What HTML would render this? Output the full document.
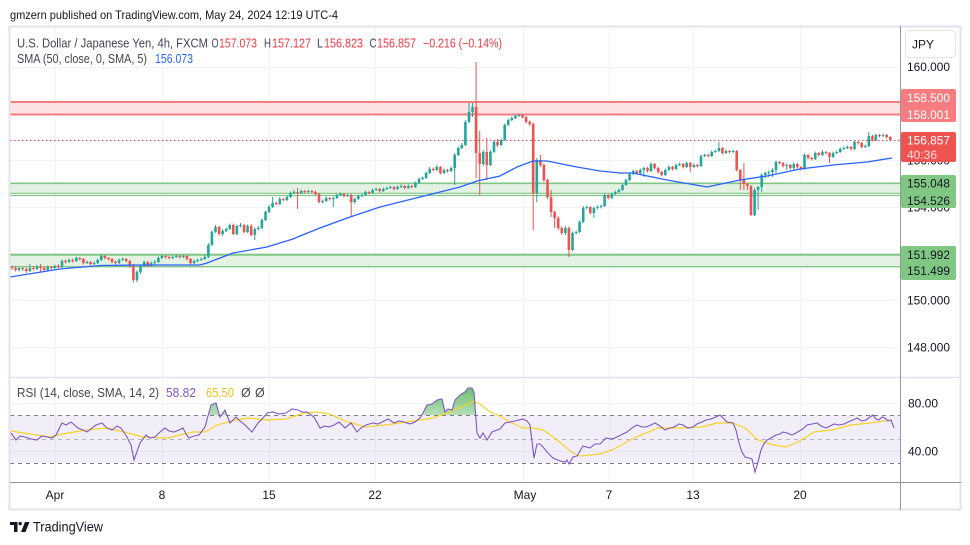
<!DOCTYPE html>
<html><head><meta charset="utf-8"><style>
html,body{margin:0;padding:0;background:#fff;}
svg{display:block;font-family:"Liberation Sans",sans-serif;}
</style></head><body>
<svg width="970" height="545" viewBox="0 0 970 545" xmlns="http://www.w3.org/2000/svg">
<defs>
<clipPath id="cp"><rect x="10" y="27" width="890" height="350"/></clipPath>
<clipPath id="rsiTop"><rect x="10" y="378" width="890" height="37"/></clipPath>
<linearGradient id="gg" x1="0" y1="0" x2="0" y2="1"><stop offset="0" stop-color="#4caf50" stop-opacity="0.8"/><stop offset="1" stop-color="#4caf50" stop-opacity="0.05"/></linearGradient>
</defs>
<rect width="970" height="545" fill="#fff"/>
<text x="10" y="19" font-size="12" fill="#131722" textLength="328" lengthAdjust="spacingAndGlyphs">gmzern published on TradingView.com, May 24, 2024 12:19 UTC-4</text>

<!-- grid -->
<g stroke="#f0f3fa" stroke-width="1">
<path d="M55.5 27V482M162.5 27V482M269.5 27V482M375.5 27V482M523.5 27V482M609.5 27V482M693.5 27V482M800.5 27V482"/>
<path d="M10 67.5H900M10 113.5H900M10 160.5H900M10 207.5H900M10 253.5H900M10 300.5H900M10 347.5H900"/>
<path d="M10 403.5H900M10 451.5H900"/>
</g>

<!-- boxes -->
<g clip-path="url(#cp)">
<rect x="10" y="102" width="890" height="12.5" fill="#fde2e3"/>
<path d="M10 102H900M10 114.5H900" stroke="#f77c80" stroke-width="2"/>
<rect x="10" y="183.3" width="890" height="10" fill="#e4f2e4"/>
<path d="M10 183.3H900" stroke="#81c784" stroke-width="1.6"/>
<path d="M10 193.3H900M10 195.5H900" stroke="#81c784" stroke-width="1.2"/>
<rect x="10" y="254.7" width="890" height="12" fill="#e4f2e4"/>
<path d="M10 254.7H900" stroke="#81c784" stroke-width="2"/>
<path d="M10 266.7H900" stroke="#81c784" stroke-width="1.4"/>
<path d="M10 140.5H900" stroke="#f23645" stroke-width="1" stroke-dasharray="1.5 2.5"/>

<!-- candles -->
<path fill="none" stroke="#26a69a" stroke-width="1" d="M19.1 266.5V271.5M29.9 264V272M37 265V270.5M47.7 265.5V271M54.8 264.5V269M62 259.5V268M69.1 258.5V263M76.3 256.5V262M87 260.5V264M94.1 261.5V265M97.7 258.5V264M101.3 254.5V261M119.1 258.5V264M122.7 257.5V261M137 270V282M140.5 264.5V274M144.1 260.5V267M151.2 261.5V267M154.8 260V264.5M158.4 256.5V263M161.9 254.5V259M172.7 255.5V259M176.2 254.5V258M183.4 254.5V258M194.1 259.5V264M197.6 258.5V262M201.2 257.5V261M204.8 255V260M208.4 243V258M211.9 230V246M215.5 225V233M222.6 229V236M226.2 227.5V232M229.8 223.5V230M236.9 224.5V235M240.5 223V227.5M247.6 224.5V233M254.8 227.5V240M258.3 226V230.5M261.9 218.5V229M265.5 210.5V221M269 205V213M272.6 197V208M279.8 197V205M286.9 195.5V201M290.5 191.5V198M294 190V194M301.2 189.5V194M308.3 189.5V193M322.6 199.5V203.5M326.2 196.5V202M333.3 196.5V207M336.9 193.5V199M340.4 192.5V196M347.6 193.5V197M354.7 197.5V204M358.3 194.5V200M361.9 193.5V197M365.4 190.5V196M372.6 188.5V194M376.1 187.5V191M383.3 187.5V192M386.9 186.5V190M390.4 185.5V189M397.6 185.5V190M401.1 184.5V188M408.3 184.5V189M415.4 181.5V188M419 177.5V184M422.6 176.5V180M426.1 171.5V179M429.7 167V174M436.8 165V171M444 168.5V174M451.1 166.5V172M454.7 153V185M458.3 146.5V156M461.8 143V149M465.4 120V146M469 103V123M472.5 103V117M483.2 150V166M490.4 150V166M494 140V153M501.1 138.5V146M504.7 123.5V141M508.2 118.5V126M511.8 116.5V121M515.4 114.5V119M518.9 113.5V117M536.8 158V202M565.4 226V235M572.5 231.5V251M576.1 230.5V234.5M579.6 220.5V233M583.2 206V223M586.8 205.5V209.5M593.9 206.5V218M597.5 205.5V209.5M601.1 204.5V208.5M604.6 193.5V207M611.8 192.5V199M615.3 190.5V195M618.9 188.5V193M622.5 183.5V191M626 178.5V186M629.6 172.5V181M633.2 169.5V175M640.3 168.5V174M643.9 166.5V177M651 162.5V172M665.3 168.5V176M668.9 165.5V171M676 163.5V170M679.6 162.5V166M686.7 161.5V168M693.9 163.5V168M701 154.5V167M704.6 153.5V157M711.7 150.5V157M715.3 149.5V153M718.9 142V152M726 149.5V154M733.1 149.5V153M754.6 188V216M758.1 186V210M761.7 173.5V192M765.3 171.5V178M768.8 170.5V177M772.4 168V177M776 160.5V173M786.7 163.5V170M793.8 162.5V170M804.5 153.5V170M815.3 151.5V160M822.4 150V156M833.1 151.5V158M836.7 150.5V154M840.2 147.5V153M843.8 146.5V150M847.4 145.5V149M854.5 140.5V150M865.2 144.5V148M868.8 132V147M875.9 133.5V141M883.1 133.5V137"/>
<path fill="none" stroke="#26a69a" stroke-width="2.6" d="M19.1 268V270M29.9 268V271M37 267V269M47.7 267V270M54.8 266V268M62 261V267M69.1 260V262M76.3 258V261M87 262V263M94.1 263V264M97.7 260V263M101.3 256V260M119.1 260V263M122.7 259V260M137 272V280M140.5 266V272M144.1 262V266M151.2 263V266M154.8 262V263M158.4 258V262M161.9 256V258M172.7 257V258M176.2 256V257M183.4 256V257M194.1 261V263M197.6 260V261M201.2 259V260M204.8 257V259M208.4 245V257M211.9 232V245M215.5 227V232M222.6 231V234M226.2 229V231M229.8 225V229M236.9 226V234M240.5 225V226M247.6 226V232M254.8 229V235M258.3 228V229M261.9 220V228M265.5 212V220M269 207V212M272.6 203V207M279.8 199V204M286.9 197V200M290.5 193V197M294 192V193M301.2 191V193M308.3 191V192M322.6 201V202M326.2 198V201M333.3 198V199M336.9 195V198M340.4 194V195M347.6 195V196M354.7 199V202M358.3 196V199M361.9 195V196M365.4 192V195M372.6 190V193M376.1 189V190M383.3 189V191M386.9 188V189M390.4 187V188M397.6 187V189M401.1 186V187M408.3 186V188M415.4 183V187M419 179V183M422.6 178V179M426.1 173V178M429.7 169V173M436.8 167V170M444 170V173M451.1 168V171M454.7 155V168M458.3 148V155M461.8 145V148M465.4 122V145M469 112V122M472.5 107V112M483.2 152V164M490.4 152V165M494 142V152M501.1 140V145M504.7 125V140M508.2 120V125M511.8 118V120M515.4 116V118M518.9 115V116M536.8 160V193M565.4 228V233M572.5 233V250M576.1 232V233M579.6 222V232M583.2 208V222M586.8 207V208M593.9 208V213M597.5 207V208M601.1 206V207M604.6 195V206M611.8 194V198M615.3 192V194M618.9 190V192M622.5 185V190M626 180V185M629.6 174V180M633.2 171V174M640.3 170V173M643.9 168V170M651 164V171M665.3 170V175M668.9 167V170M676 165V169M679.6 164V165M686.7 163V167M693.9 165V167M701 156V166M704.6 155V156M711.7 152V156M715.3 151V152M718.9 148V151M726 151V153M733.1 151V152M754.6 190V215M758.1 187V190M761.7 175V187M765.3 173V175M768.8 172V173M772.4 170V172M776 162V170M786.7 165V166M793.8 164V168M804.5 155V169M815.3 153V159M822.4 152V155M833.1 153V157M836.7 152V153M840.2 149V152M843.8 148V149M847.4 147V148M854.5 142V149M865.2 146V147M868.8 136V146M875.9 135V140M883.1 135V136"/>
<path fill="none" stroke="#ef5350" stroke-width="1" d="M12 265.5V270M15.6 266V271.5M22.7 267V271M26.3 267.5V273M33.4 266V270.5M40.6 264V272M44.1 266.5V272M51.3 266V270M58.4 264V268.5M65.6 259.5V263.5M72.7 258.5V262.5M79.8 257V260.5M83.4 258V264.5M90.5 261V265.5M104.8 255V259.5M108.4 257V260.5M112 258V263.5M115.5 260.5V264.5M126.2 258V262.5M129.8 260V268M133.4 264V282.5M147.7 261V267.5M165.5 255V258.5M169.1 256V259.5M179.8 255V258.5M186.9 255V260.5M190.5 258V264.5M219.1 226V235.5M233.3 223.5V235M244.1 224V233.5M251.2 224V236.5M276.2 201.5V205.5M283.3 198V201.5M297.6 188V209M304.7 190V193.5M311.9 190V193.5M315.5 190.5V195.5M319 193V203.5M329.7 197V200.5M344 193V197.5M351.2 193.5V217M369 191V194.5M379.7 188V192.5M394 186V190.5M404.7 185V189.5M411.8 185V188.5M433.3 167.5V171.5M440.4 166V174.5M447.5 169V172.5M476.1 62V178M479.7 131V195M486.8 138V180M497.5 139V147M522.5 114V118.5M526.1 116V123.5M529.7 120.5V126M533.2 122.5V230M540.4 155V167M543.9 163.5V182M547.5 178.5V199M551.1 190V217M554.6 210.5V228M558.2 216V230M561.8 226.5V235M568.9 226.5V257M590.3 206V214.5M608.2 194V199.5M636.8 170V174.5M647.5 167V172.5M654.6 163V169.5M658.2 167V173.5M661.7 171V176.5M672.5 166V170.5M683.2 163V168.5M690.3 162V172M697.4 164V167.5M708.2 153.5V157.5M722.4 147V154.5M729.6 150V153.5M736.7 150V171.5M740.3 169V190M743.9 163V190M747.4 183V190M751 185V216M779.6 161V164.5M783.1 162V167.5M790.3 164V169.5M797.4 163V168.5M801 166V170.5M808.1 154V159.5M811.7 157V160.5M818.8 152V156.5M826 151V154.5M829.5 152V163M851 146V150.5M858.1 141V144.5M861.7 142V148.5M872.4 135V141.5M879.5 134V137.5M886.7 134V138.5M890.2 136V141"/>
<path fill="none" stroke="#ef5350" stroke-width="2.6" d="M12 267V268M15.6 268V270M22.7 268V269M26.3 269V271M33.4 268V269M40.6 267V268M44.1 268V270M51.3 267V268M58.4 266V267M65.6 261V262M72.7 260V261M79.8 258V259M83.4 259V263M90.5 262V264M104.8 256V258M108.4 258V259M112 259V262M115.5 262V263M126.2 259V261M129.8 261V266M133.4 266V280M147.7 262V266M165.5 256V257M169.1 257V258M179.8 256V257M186.9 256V259M190.5 259V263M219.1 227V234M233.3 225V234M244.1 225V232M251.2 226V235M276.2 203V204M283.3 199V200M297.6 192V193M304.7 191V192M311.9 191V192M315.5 192V194M319 194V202M329.7 198V199M344 194V196M351.2 195V202M369 192V193M379.7 189V191M394 187V189M404.7 186V188M411.8 186V187M433.3 169V170M440.4 167V173M447.5 170V171M476.1 107V153M479.7 153V164M486.8 152V165M497.5 142V145M522.5 115V117M526.1 117V122M529.7 122V124M533.2 124V193M540.4 160V165M543.9 165V180M547.5 180V197M551.1 197V212M554.6 212V218M558.2 218V228M561.8 228V233M568.9 228V250M590.3 207V213M608.2 195V198M636.8 171V173M647.5 168V171M654.6 164V168M658.2 168V172M661.7 172V175M672.5 167V169M683.2 164V167M690.3 163V167M697.4 165V166M708.2 155V156M722.4 148V153M729.6 151V152M736.7 151V170M740.3 170V180M743.9 180V184M747.4 184V186M751 186V215M779.6 162V163M783.1 163V166M790.3 165V168M797.4 164V167M801 167V169M808.1 155V158M811.7 158V159M818.8 153V155M826 152V153M829.5 153V157M851 147V149M858.1 142V143M861.7 143V147M872.4 136V140M879.5 135V136M886.7 135V137M890.2 137V140"/>

<!-- SMA -->
<polyline fill="none" stroke="#2962ff" stroke-width="1.3" points="10,277 35,273 60,269 100,265.5 143,265 200,265 207,263 233,253 267,247 293,239 300,236 320,228 350,217 380,207 420,197 460,187 477,181 500,176 517,167 533,161 547,161 577,167 600,171 620,173 633,173 667,180 707,187 740,180 767,176 800,169 833,165 867,162 892,158"/>
</g>

<!-- legend -->
<g font-size="12.5">
<text x="17" y="47.5" fill="#434651" textLength="191" lengthAdjust="spacingAndGlyphs">U.S. Dollar / Japanese Yen, 4h, FXCM</text>
<text x="211.5" y="47.5" fill="#434651" textLength="7" lengthAdjust="spacingAndGlyphs">O</text><text x="219" y="47.5" fill="#f23645" textLength="38" lengthAdjust="spacingAndGlyphs">157.073</text>
<text x="264" y="47.5" fill="#434651" textLength="7" lengthAdjust="spacingAndGlyphs">H</text><text x="272" y="47.5" fill="#f23645" textLength="39" lengthAdjust="spacingAndGlyphs">157.127</text>
<text x="317" y="47.5" fill="#434651" textLength="6" lengthAdjust="spacingAndGlyphs">L</text><text x="324" y="47.5" fill="#f23645" textLength="39" lengthAdjust="spacingAndGlyphs">156.823</text>
<text x="369.5" y="47.5" fill="#434651" textLength="7" lengthAdjust="spacingAndGlyphs">C</text><text x="377" y="47.5" fill="#f23645" textLength="39" lengthAdjust="spacingAndGlyphs">156.857</text>
<text x="423" y="47.5" fill="#f23645" textLength="79" lengthAdjust="spacingAndGlyphs">−0.216 (−0.14%)</text>
<text x="17" y="63" fill="#434651" textLength="130" lengthAdjust="spacingAndGlyphs">SMA (50, close, 0, SMA, 5)</text>
<text x="155" y="63" fill="#2962ff" textLength="38" lengthAdjust="spacingAndGlyphs">156.073</text>
</g>

<!-- RSI pane -->
<rect x="10" y="415" width="890" height="48" fill="#7e57c2" fill-opacity="0.1"/>
<path d="M10 415.5H900M10 463.5H900" stroke="#787b86" stroke-width="1" stroke-dasharray="4 4"/>
<path d="M10 439.5H900" stroke="#787b86" stroke-opacity="0.5" stroke-width="1" stroke-dasharray="4 4"/>
<path clip-path="url(#rsiTop)" fill="url(#gg)" d="M205 427 L211 405 L216 403 L220 417 L225 410 L230 423 L236 417 L236 440 L205 440 Z M410 424 L415 422 L420 418 L424 411 L427 405 L432 404 L437 400 L442 399 L445 412 L448 409 L452 410 L455 400 L460 395 L465 392 L468 388 L472 388 L474 392 L477 433 L410 433 Z"/>
<polyline fill="none" stroke="#f5d328" stroke-width="1.2" points="11,431 37,435 50,437 68,433 87,430 106,428 124,432 143,437 168,438 180,435 193,432 205,432 217,425 236,420 248,418 267,420 286,419 304,413 317,412 329,414 348,422 366,427 385,425 400,423 420,420 433,418 450,412 463,406 473,401 480,404 490,412 500,416 510,422 523,428 533,428 543,430 553,437 563,445 573,453 580,456 590,455 600,454 612,450 634,438 658,428 683,428 702,427 717,423 733,423 745,428 758,440 773,445 786,447 798,442 814,432 832,430 851,425 870,423 891,420"/>
<polyline fill="none" stroke="#7e57c2" stroke-width="1.1" points="11,433 16,440 20,436 25,437 31,439 37,440 42,436 47,437 52,438 56,435 62,423 66,425 71,422 78,428 83,430 87,432 92,428 96,425 102,423 107,428 112,430 117,426 121,428 127,437 131,445 134,460 140,443 146,435 150,438 155,437 160,432 165,428 169,431 174,432 179,430 183,428 186,434 189,438 194,436 199,435 205,427 211,405 216,403 220,417 225,410 230,423 236,417 240,421 245,425 252,432 258,423 263,418 267,413 273,412 279,414 286,413 292,409 298,410 302,412 307,412 314,417 320,428 325,426 329,427 334,425 339,422 345,428 351,423 357,432 361,428 366,425 373,423 378,424 382,422 388,419 394,423 399,421 404,422 410,424 415,422 420,418 424,411 427,405 432,404 437,400 442,399 445,412 448,409 452,410 455,400 460,395 465,392 468,388 472,388 474,392 477,433 480,438 483,433 487,440 492,432 497,430 500,429 505,423 510,422 515,421 523,419 527,421 530,425 534,458 537,444 540,444 543,447 548,453 553,458 560,461 565,462 567,460 569,464 573,457 577,456 583,446 590,448 595,444 600,444 606,438 611,439 615,438 621,435 627,432 632,428 637,425 642,427 646,427 651,425 655,423 660,426 665,430 670,428 674,427 679,424 683,425 688,428 693,427 697,424 702,422 706,420 711,419 716,417 720,415 724,419 727,422 733,423 736,430 739,443 742,452 745,457 749,458 752,459 755,472 758,462 761,450 764,444 767,440 771,438 776,435 780,434 783,432 787,433 792,435 796,433 801,430 804,428 807,425 812,424 817,423 821,426 826,428 830,426 834,424 839,425 844,424 848,422 853,420 857,418 862,421 866,420 870,417 873,415 876,419 879,420 882,417 885,418 888,421 891,420 894,428"/>
<g font-size="12.5">
<text x="17" y="397" fill="#434651" textLength="142" lengthAdjust="spacingAndGlyphs">RSI (14, close, SMA, 14, 2)</text>
<text x="166" y="397" fill="#7e57c2" textLength="30" lengthAdjust="spacingAndGlyphs">58.82</text>
<text x="206" y="397" fill="#e8c41c" textLength="28" lengthAdjust="spacingAndGlyphs">65.50</text>
<text x="241" y="397" fill="#434651">Ø</text>
<text x="255" y="397" fill="#434651">Ø</text>
</g>

<!-- frame and axes -->
<rect x="9.5" y="26.5" width="951" height="483" fill="none" stroke="#e0e3eb" stroke-width="2"/>
<path d="M10 377.5H961" stroke="#e0e3eb" stroke-width="1.5"/>
<path d="M900.5 26V510" stroke="#9598a1" stroke-width="1"/>
<path d="M10 482.5H961" stroke="#9598a1" stroke-width="1"/>

<!-- price axis labels -->
<g font-size="12" fill="#131722">
<text x="907" y="71" textLength="43" lengthAdjust="spacingAndGlyphs">160.000</text>
<text x="907" y="164.5" textLength="43" lengthAdjust="spacingAndGlyphs">156.000</text>
<text x="907" y="211.5" textLength="43" lengthAdjust="spacingAndGlyphs">154.000</text>
<text x="907" y="304.5" textLength="43" lengthAdjust="spacingAndGlyphs">150.000</text>
<text x="907" y="351.5" textLength="43" lengthAdjust="spacingAndGlyphs">148.000</text>
<text x="908" y="407.5" textLength="30" lengthAdjust="spacingAndGlyphs">80.00</text>
<text x="908" y="455.5" textLength="30" lengthAdjust="spacingAndGlyphs">40.00</text>
</g>
<rect x="905.5" y="30.5" width="50" height="27" rx="4" fill="#fff" stroke="#e0e3eb"/>
<text x="923" y="48.5" font-size="12" fill="#131722" text-anchor="middle">JPY</text>

<rect x="901" y="89" width="55" height="33" rx="2" fill="#f77c80"/>
<g font-size="12" fill="#fff">
<text x="907" y="102" textLength="43" lengthAdjust="spacingAndGlyphs">158.500</text>
<text x="907" y="119" textLength="43" lengthAdjust="spacingAndGlyphs">158.001</text>
</g>
<rect x="901" y="132" width="55" height="30" rx="2" fill="#ef5350"/>
<text x="907" y="144.5" font-size="12" fill="#fff" textLength="43" lengthAdjust="spacingAndGlyphs">156.857</text>
<text x="907" y="159" font-size="12" fill="#fde0e0" textLength="30" lengthAdjust="spacingAndGlyphs">40:36</text>
<rect x="901" y="175" width="55" height="33" rx="2" fill="#81c784"/>
<g font-size="12" fill="#131722">
<text x="907" y="187.5" textLength="43" lengthAdjust="spacingAndGlyphs">155.048</text>
<text x="907" y="205" textLength="43" lengthAdjust="spacingAndGlyphs">154.526</text>
</g>
<rect x="901" y="246" width="55" height="34" rx="2" fill="#81c784"/>
<g font-size="12" fill="#131722">
<text x="907" y="259" textLength="43" lengthAdjust="spacingAndGlyphs">151.992</text>
<text x="907" y="275" textLength="43" lengthAdjust="spacingAndGlyphs">151.499</text>
</g>

<!-- time axis -->
<g font-size="12" fill="#131722" text-anchor="middle">
<text x="55" y="499">Apr</text>
<text x="162" y="499">8</text>
<text x="269" y="499">15</text>
<text x="375" y="499">22</text>
<text x="525" y="499">May</text>
<text x="609" y="499">7</text>
<text x="693" y="499">13</text>
<text x="800" y="499">20</text>
</g>

<!-- logo -->
<g fill="#131722">
<rect x="10" y="522" width="7.5" height="3"/>
<rect x="14" y="522" width="3.5" height="10"/>
<circle cx="20.2" cy="523.6" r="1.7"/>
<polygon points="21,532 25,522 29.5,522 25.5,532"/>
</g>
<text x="33" y="531.5" font-size="13.5" fill="#131722" textLength="70" lengthAdjust="spacingAndGlyphs">TradingView</text>
</svg>
</body></html>
